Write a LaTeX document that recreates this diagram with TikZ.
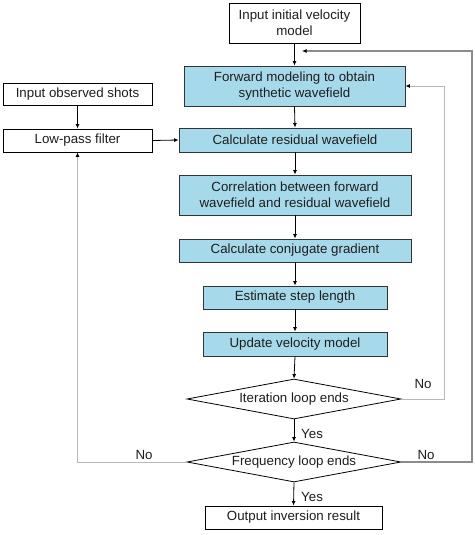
\documentclass[tikz,border=0pt]{standalone}
\usepackage{fontspec}
\setmainfont{Liberation Sans}
\usetikzlibrary{arrows.meta,shapes.geometric}
\definecolor{boxblue}{HTML}{A6D9EA}
\definecolor{boxedge}{HTML}{2E3438}
\definecolor{txt}{HTML}{1E1E1E}
\definecolor{lightloop}{HTML}{B8B8B8}
\definecolor{darkloop}{HTML}{8C8C8C}
\tikzset{
  wbox/.style={draw=black, line width=0.9pt, fill=white, inner sep=0pt, align=center, text=txt},
  bbox/.style={draw=boxedge, line width=0.9pt, fill=boxblue, inner sep=0pt, align=center, text=txt},
  decision/.style={diamond, draw=black, line width=0.8pt, fill=white, aspect=5.35, minimum width=214pt, minimum height=40pt, inner sep=0pt, text=txt},
  flow/.style={draw=black, line width=0.8pt, -{Latex[length=4.5pt,width=4pt]}},
  loopl/.style={draw=lightloop, line width=0.9pt, -{Latex[length=4.5pt,width=4pt,color=black]}},
  loopd/.style={draw=darkloop, line width=1.8pt, -{Latex[length=4.5pt,width=4pt,color=black]}},
  lbl/.style={text=txt, inner sep=0pt}
}
\begin{document}
\begin{tikzpicture}[x=1pt,y=-1pt,font=\fontsize{13.3}{16}\selectfont]
\useasboundingbox (0,0) rectangle (474,535);
\fill[white] (0,0) rectangle (474,535);

\node[wbox, minimum width=131pt, minimum height=40pt] (init) at (294.5,23) {Input initial velocity\\model};
\node[bbox, minimum width=221pt, minimum height=40pt] (fwd) at (294.5,86) {Forward modeling to obtain\\synthetic wavefield};
\node[wbox, minimum width=149pt, minimum height=22pt] (obs) at (77.5,94) {Input observed shots};
\node[wbox, minimum width=149pt, minimum height=23pt] (lpf) at (77.5,140.5) {Low-pass filter};
\node[bbox, minimum width=232pt, minimum height=24pt] (res) at (295,140) {Calculate residual wavefield};
\node[bbox, minimum width=232pt, minimum height=40pt] (corr) at (295,195) {Correlation between forward\\wavefield and residual wavefield};
\node[bbox, minimum width=232pt, minimum height=23pt] (cg) at (295,250.5) {Calculate conjugate gradient};
\node[bbox, minimum width=184pt, minimum height=23pt] (steplen) at (295,297.5) {Estimate step length};
\node[bbox, minimum width=184pt, minimum height=24pt] (upd) at (295,344) {Update velocity model};
\node[decision] (iter) at (294,399) {Iteration loop ends};
\node[decision] (freq) at (294,462) {Frequency loop ends};
\node[wbox, minimum width=177pt, minimum height=23pt] (out) at (293.5,517.5) {Output inversion result};

\coordinate (ret) at (302,51);

\draw[flow] (init.south) -- (fwd.north);
\draw[flow] (fwd.south) -- (res.north);
\draw[flow] (res.south) -- (corr.north);
\draw[flow] (corr.south) -- (cg.north);
\draw[flow] (cg.south) -- (steplen.north);
\draw[flow] (steplen.south) -- (upd.north);
\draw[flow] (upd.south) -- (iter.north);
\draw[flow] (iter.south) -- (freq.north);
\draw[flow] (freq.south) -- (out.north);
\draw[flow] (obs.south) -- (lpf.north);
\draw[flow] (lpf.east) -- (res.west);

\draw[loopl] (iter.east) -- (444,399) |- (fwd.east);
\draw[loopl] (freq.west) -| (lpf.south);
\draw[loopd] (freq.east) -- (472,462) |- (ret);

\node[lbl, anchor=west] at (301,434) {Yes};
\node[lbl, anchor=west] at (301,497) {Yes};
\node[lbl] at (423,384) {No};
\node[lbl] at (144,455) {No};
\node[lbl] at (426,455) {No};
\end{tikzpicture}
\end{document}
